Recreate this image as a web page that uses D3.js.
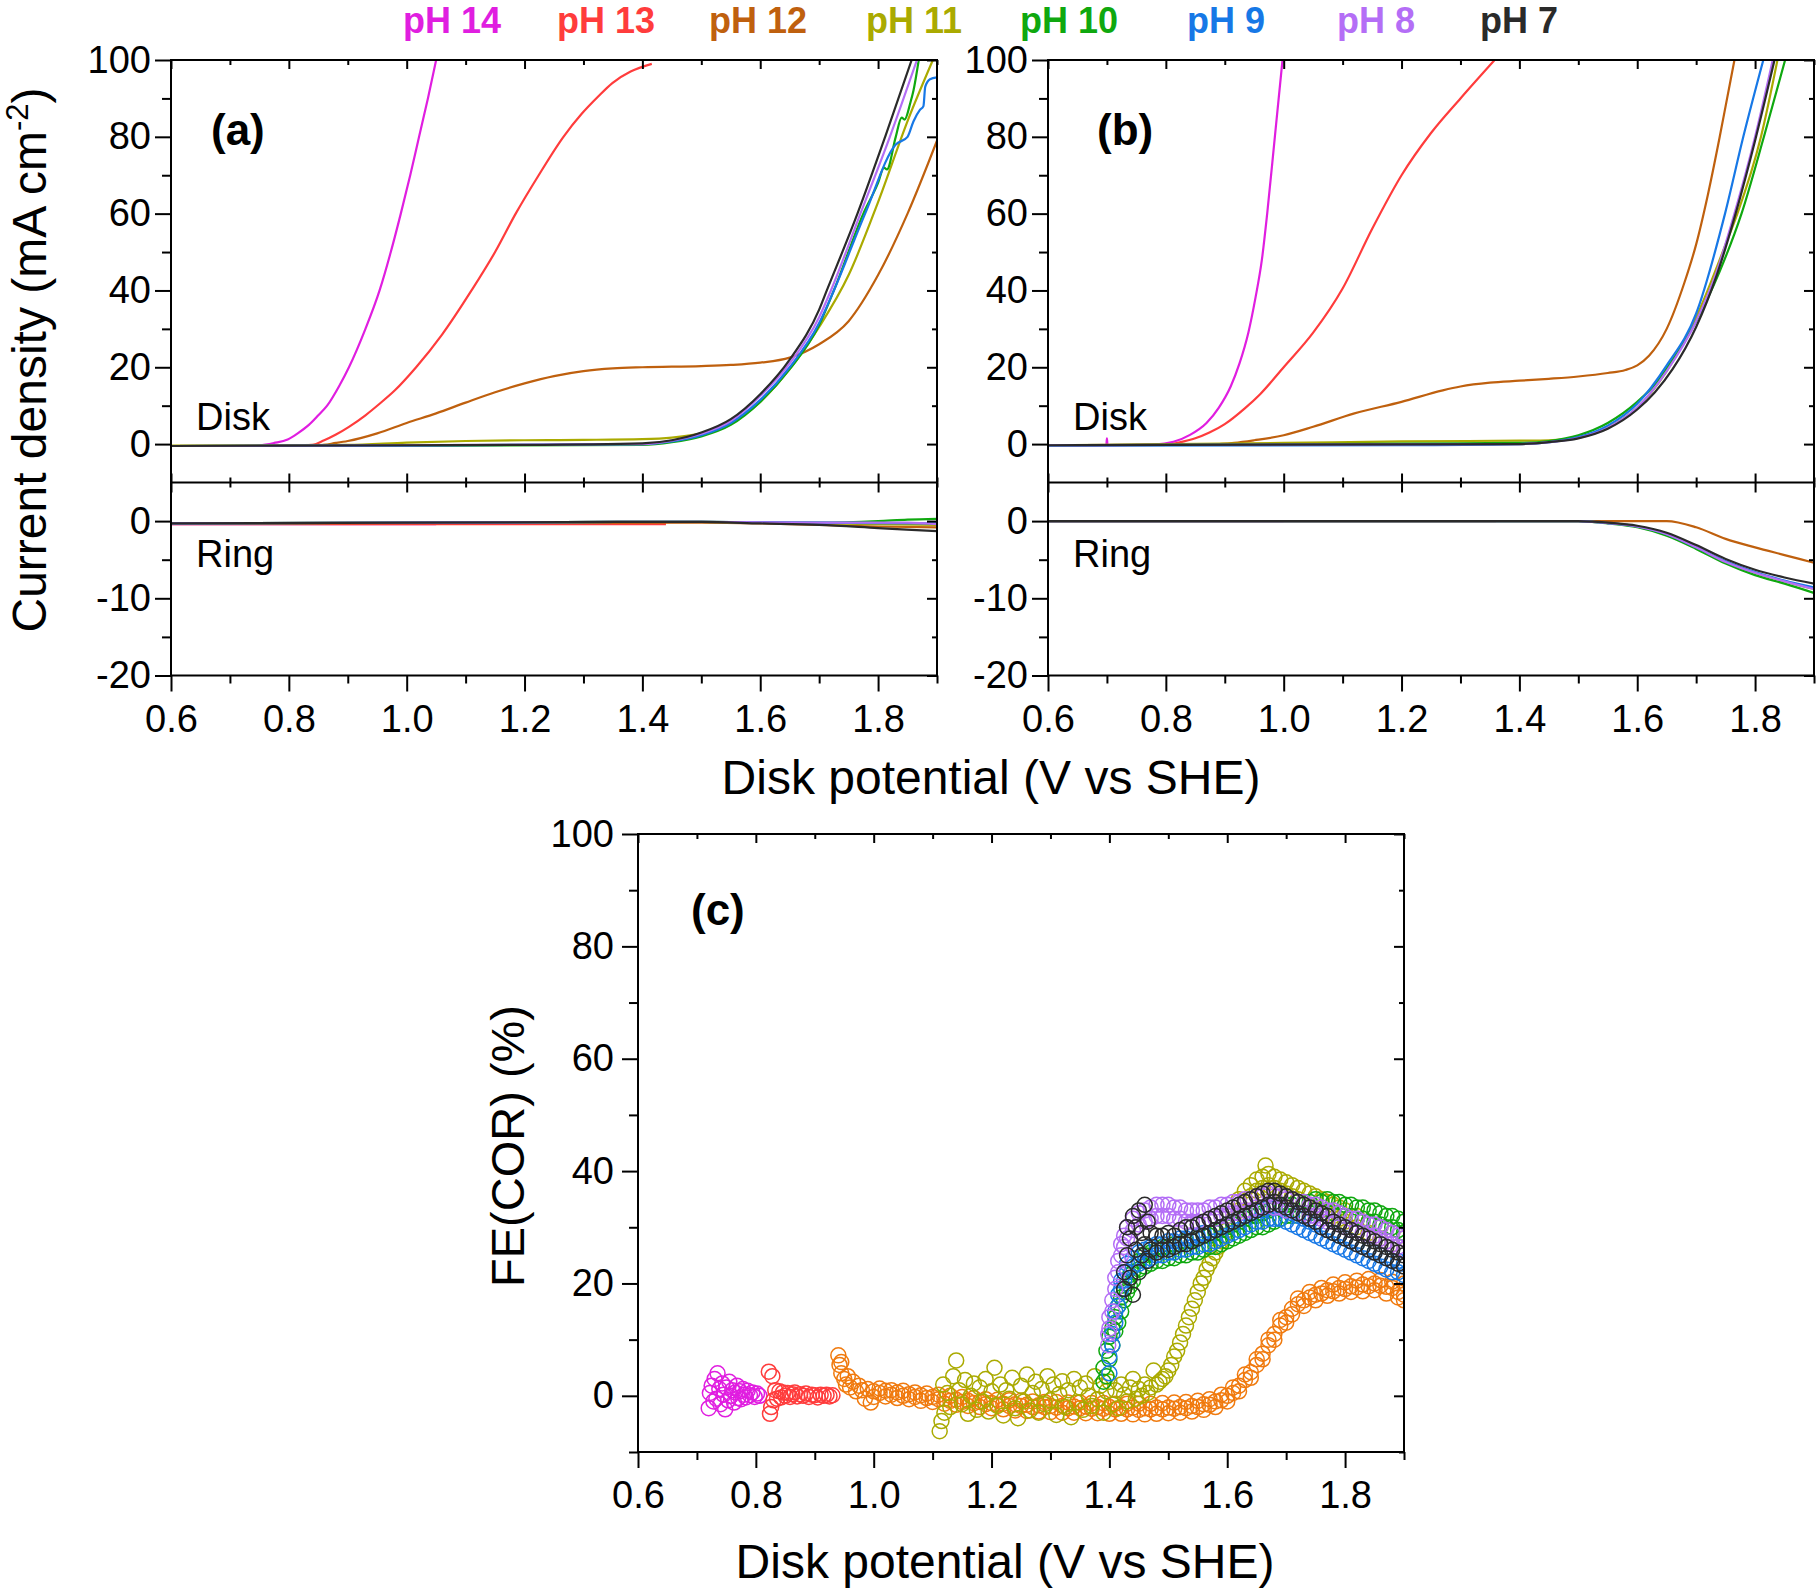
<!DOCTYPE html>
<html>
<head>
<meta charset="utf-8">
<script src="https://cdn.jsdelivr.net/npm/d3@7"></script>
<style>
body { margin: 0; background: #fff; }
text { font-family: "Liberation Sans", Arial, sans-serif; }
</style>
</head>
<body>
<script>
// series labels and colours
var phLabels = ["pH 14", "pH 13", "pH 12", "pH 11", "pH 10", "pH 9", "pH 8", "pH 7"];
var lineColors = ["#e01ee0", "#ff3c3c", "#bf600e", "#aaaa00", "#0fa80f", "#1778e6", "#b46ef6", "#2a2a2a"];
var pointColors = ["#e01ee0", "#ff3c3c", "#f07a0e", "#aaaa00", "#0fa80f", "#1778e6", "#b46ef6", "#2a2a2a"];

// tick values
var xMajor = [0.6, 0.8, 1.0, 1.2, 1.4, 1.6, 1.8];
var xMinor = [0.7, 0.9, 1.1, 1.3, 1.5, 1.7, 1.9];
var diskMajor = [0, 20, 40, 60, 80, 100];
var diskMinor = [10, 30, 50, 70, 90];
var ringMajor = [0, -10, -20];
var ringMinor = [-5, -15];
var feMajor = [0, 20, 40, 60, 80, 100];
var feMinor = [-10, 10, 30, 50, 70, 90];

// (a) disk current, [V, mA cm-2], order pH 14 .. pH 7
var diskA = [
  [[0.6,-0.5],[0.70,-0.5],[0.75,-0.3],[0.775,0.3],[0.798,1.2],[0.815,2.8],[0.834,5],[0.85,7.5],[0.865,10],[0.885,15],[0.902,20],[0.93,30],[0.954,40],[0.973,50],[0.99,60],[1.006,70],[1.021,80],[1.036,90],[1.05,100]],
  [[0.6,-0.5],[0.80,-0.5],[0.84,-0.2],[0.86,1],[0.88,2.5],[0.902,4.5],[0.93,7.5],[0.954,10.5],[0.98,14],[1.016,20],[1.06,28.5],[1.11,40],[1.15,50],[1.185,60],[1.224,70],[1.266,80],[1.297,86],[1.325,90.5],[1.349,94],[1.38,97],[1.416,99]],
  [[0.6,-0.5],[0.85,-0.3],[0.88,0.3],[0.9,0.8],[0.95,2.8],[1.0,5.5],[1.05,8],[1.1,10.8],[1.15,13.5],[1.2,15.8],[1.25,17.7],[1.3,19],[1.35,19.7],[1.4,20],[1.5,20.3],[1.55,20.6],[1.6,21.2],[1.65,22.5],[1.7,26],[1.75,32],[1.8,44],[1.85,60],[1.9,79]],
  [[0.6,-0.4],[0.9,-0.2],[1.0,0.4],[1.1,0.8],[1.2,1],[1.3,1.1],[1.4,1.3],[1.45,1.7],[1.5,2.8],[1.55,5.5],[1.6,11],[1.65,19.5],[1.7,30.5],[1.75,44],[1.8,63],[1.851,84.5],[1.893,100]],
  [[0.6,-0.5],[1.0,-0.4],[1.4,-0.2],[1.45,0.5],[1.5,2],[1.55,5],[1.6,11],[1.65,19.5],[1.7,31],[1.725,40],[1.775,60],[1.8,68],[1.81,72],[1.815,71.5],[1.83,80],[1.84,85],[1.845,84.5],[1.855,89],[1.86,92],[1.869,100]],
  [[0.6,-0.5],[1.0,-0.4],[1.4,0],[1.45,0.7],[1.5,2.3],[1.55,5.5],[1.6,11.5],[1.65,20],[1.7,31.5],[1.725,40],[1.778,60],[1.83,78],[1.85,80],[1.86,84],[1.871,87],[1.877,88],[1.88,93],[1.888,95],[1.9,95.5]],
  [[0.6,-0.5],[1.0,-0.3],[1.4,0],[1.45,0.9],[1.5,2.7],[1.55,6],[1.6,12.5],[1.65,21],[1.7,33],[1.72,40],[1.77,60],[1.82,80],[1.866,100]],
  [[0.6,-0.5],[1.0,-0.3],[1.2,-0.2],[1.4,0.2],[1.45,1],[1.5,3],[1.55,6.5],[1.6,13],[1.65,22],[1.7,35],[1.713,40],[1.765,60],[1.812,80],[1.857,100]]
];

// (a) ring current
var ringA = [
  [[0.6,-0.4],[1.05,-0.4]],
  [[0.6,-0.4],[1.44,-0.4]],
  [[0.6,-0.3],[1.5,-0.2],[1.6,-0.3],[1.7,-0.5],[1.8,-0.7],[1.9,-0.8]],
  [[0.6,-0.3],[1.5,-0.1],[1.7,-0.3],[1.9,-0.5]],
  [[0.6,-0.3],[1.5,-0.1],[1.7,-0.2],[1.8,0],[1.85,0.2],[1.9,0.3]],
  [[0.6,-0.3],[1.5,-0.1],[1.7,-0.2],[1.9,-0.3]],
  [[0.6,-0.3],[1.5,-0.1],[1.7,-0.2],[1.85,-0.2],[1.9,-0.4]],
  [[0.6,-0.3],[1.5,-0.1],[1.6,-0.3],[1.7,-0.5],[1.8,-0.9],[1.9,-1.3]]
];

// (b) disk current
var diskB = [
  [[0.6,-0.3],[0.699,-0.3],[0.7,1.5],[0.701,-0.3],[0.78,-0.1],[0.813,0.6],[0.841,2.4],[0.869,5.5],[0.89,9.5],[0.91,15],[0.925,21],[0.94,29],[0.952,38],[0.963,48],[0.972,60],[0.985,80],[0.998,100]],
  [[0.6,-0.3],[0.8,-0.2],[0.822,0.4],[0.85,1.5],[0.874,3],[0.9,5.2],[0.934,9.3],[0.96,13],[1.0,20],[1.05,29],[1.1,40.5],[1.15,56],[1.2,70],[1.25,81],[1.3,90],[1.358,100]],
  [[0.6,-0.3],[0.88,-0.1],[0.916,0.3],[0.95,1],[1.0,2.3],[1.05,4.5],[1.12,8],[1.2,11],[1.27,14],[1.3,15],[1.35,16],[1.4,16.5],[1.45,17],[1.5,17.6],[1.55,18.5],[1.58,19.3],[1.6,20.5],[1.62,23],[1.65,30],[1.68,42],[1.7,52],[1.72,65],[1.74,80],[1.75,88],[1.765,100]],
  [[0.6,-0.3],[1.0,0.3],[1.2,0.7],[1.4,0.9],[1.45,1],[1.5,1.8],[1.55,4.3],[1.6,9.5],[1.65,19],[1.7,33],[1.75,52],[1.77,60],[1.81,80],[1.838,100]],
  [[0.6,-0.3],[1.2,0.1],[1.4,0.3],[1.45,0.8],[1.5,2.3],[1.55,5.5],[1.6,11],[1.63,15.5],[1.66,22],[1.7,32],[1.74,45],[1.777,60],[1.815,80],[1.851,100]],
  [[0.6,-0.4],[1.2,-0.3],[1.4,0],[1.45,0.5],[1.5,1.8],[1.55,4.8],[1.6,10.5],[1.65,20.5],[1.7,34],[1.749,60],[1.78,80],[1.814,100]],
  [[0.6,-0.3],[1.4,0],[1.45,0.5],[1.5,1.6],[1.55,4.2],[1.6,9.5],[1.65,19],[1.7,32],[1.735,45],[1.765,60],[1.8,80],[1.83,100]],
  [[0.6,-0.3],[1.4,0],[1.45,0.5],[1.5,1.5],[1.55,4],[1.6,9],[1.63,13.5],[1.66,19.5],[1.7,30.5],[1.735,44],[1.767,60],[1.8,79],[1.833,100]]
];

// (b) ring current
var ringB = [
  [[0.6,0],[1.0,0]],
  [[0.6,0],[1.36,0]],
  [[0.6,0],[1.65,0],[1.7,-0.8],[1.75,-2.3],[1.8,-3.4],[1.85,-4.4],[1.9,-5.4]],
  [[0.6,0],[1.5,0],[1.55,-0.25],[1.6,-0.7],[1.65,-1.7],[1.7,-3.4],[1.75,-5.3],[1.8,-6.7],[1.85,-7.8],[1.9,-8.8]],
  [[0.6,0],[1.5,0],[1.55,-0.3],[1.6,-0.8],[1.65,-1.9],[1.7,-3.6],[1.75,-5.5],[1.8,-7.0],[1.85,-8.1],[1.9,-9.3]],
  [[0.6,0],[1.5,0],[1.55,-0.25],[1.6,-0.7],[1.65,-1.7],[1.7,-3.4],[1.75,-5.2],[1.8,-6.6],[1.85,-7.7],[1.9,-8.6]],
  [[0.6,0],[1.5,0],[1.55,-0.25],[1.6,-0.7],[1.65,-1.7],[1.7,-3.4],[1.75,-5.3],[1.8,-6.7],[1.85,-7.8],[1.9,-8.8]],
  [[0.6,0],[1.5,0],[1.55,-0.2],[1.6,-0.6],[1.65,-1.5],[1.7,-3.1],[1.75,-4.9],[1.8,-6.3],[1.85,-7.3],[1.9,-8.1]]
];

// (c) FE(COR) %, rows are [V, reading, reading...]
var feC = [
  [[0.720,-2.2],[0.722,0.5],[0.725,1.8],[0.728,-1.0],[0.730,3.0],[0.733,-0.5],[0.735,4.0],[0.738,1.2],[0.740,-1.5],[0.743,2.2],[0.745,0.2],[0.748,-2.4],[0.750,1.5],[0.753,-0.8],[0.755,2.5],[0.758,0.0],[0.760,1.0],[0.763,-1.2],[0.765,0.6],[0.768,1.8],[0.770,-0.4],[0.773,0.8],[0.775,-0.6],[0.778,1.2],[0.780,0.2],[0.783,-0.3],[0.786,0.9],[0.790,0.1],[0.794,0.6],[0.798,-0.2],[0.802,0.4],[0.806,0.0]],
  [[0.822,4.3],[0.824,-3.2],[0.826,-2.0],[0.828,3.5],[0.830,-0.8],[0.833,1.0],[0.836,-0.5],[0.840,0.8],[0.843,-0.3],[0.846,0.6],[0.850,0.0],[0.854,0.5],[0.858,-0.2],[0.862,0.3],[0.866,0.6],[0.870,-0.1],[0.875,0.3],[0.880,0.0],[0.885,0.4],[0.890,-0.2],[0.895,0.2],[0.900,0.1],[0.905,-0.3],[0.910,0.2],[0.915,0.0],[0.920,0.2],[0.925,-0.1],[0.930,0.1]],
  [[0.940,7.2],[0.942,5.5],[0.945,4.0,6.0],[0.950,3.0],[0.953,2.0],[0.956,3.5],[0.960,1.5],[0.965,2.5],[0.970,0.8],[0.975,1.8],[0.980,1.0],[0.985,-0.5],[0.990,1.2],[0.995,-1.2],[1.00,0.8,-0.2],[1.01,0.5,1.3],[1.02,0.9,-0.1],[1.03,0.2,1.0],[1.04,0.6,-0.4],[1.05,0.0,0.9],[1.06,0.3,-0.6],[1.07,-0.2,0.6],[1.08,0.1,-0.9],[1.09,-0.4,0.4],[1.10,-0.2,-1.1],[1.11,-0.6,0.2],[1.12,-0.5,-1.4],[1.13,-0.9,0.0],[1.14,-0.7,-1.6],[1.15,-1.1,-0.2],[1.16,-0.9,-1.8],[1.17,-1.3,-0.4],[1.18,-1.1,-2.0],[1.19,-1.5,-0.6],[1.20,-1.3,-2.2],[1.21,-1.6,-0.7],[1.22,-1.4,-2.4],[1.23,-1.8,-0.8],[1.24,-1.5,-2.6],[1.25,-1.8,-0.9],[1.26,-1.6,-2.7],[1.27,-2.0,-1.0],[1.28,-1.7,-2.8],[1.29,-2.0,-1.1],[1.30,-1.8,-2.9],[1.31,-2.1,-1.1],[1.32,-1.8,-3.0],[1.33,-2.2,-1.2],[1.34,-1.9,-3.0],[1.35,-2.2,-1.2],[1.36,-1.9,-3.1],[1.37,-2.3,-1.3],[1.38,-2.0,-3.1],[1.39,-2.3,-1.3],[1.40,-2.0,-3.2],[1.41,-2.4,-1.4],[1.42,-2.1,-3.2],[1.43,-2.4,-1.4],[1.44,-2.1,-3.3],[1.45,-2.5,-1.4],[1.46,-2.2,-3.3],[1.47,-2.4,-1.4],[1.48,-2.1,-3.2],[1.49,-2.4,-1.3],[1.50,-2.1,-3.1],[1.51,-2.3,-1.2],[1.52,-2.0,-3.0],[1.53,-2.2,-1.1],[1.54,-1.8,-2.8],[1.55,-2.0,-0.9],[1.56,-1.5,-2.5],[1.57,-1.6,-0.6],[1.58,-1.0,-2.0],[1.59,-0.8,0.2],[1.60,0.0,-1.0],[1.61,0.5,1.5],[1.62,1.8,0.8],[1.63,2.8,3.8],[1.64,4.2,3.2],[1.65,5.5,6.5],[1.66,7.5,6.5],[1.67,9.0,10.0],[1.68,11.0,10.0],[1.69,12.5,13.5],[1.70,14.0,13.0],[1.71,15.5,14.5],[1.72,16.3,17.3],[1.73,17.0,16.0],[1.74,17.5,18.5],[1.75,18.0,17.0],[1.76,18.2,19.2],[1.77,18.8,17.8],[1.78,18.6,19.8],[1.79,19.2,18.2],[1.80,19.0,20.2],[1.81,19.5,18.5],[1.82,19.3,20.5],[1.83,19.8,18.6],[1.84,19.5,20.8],[1.85,20.0,18.8],[1.86,19.6,20.6],[1.87,19.4,18.2],[1.88,19.2,20.3],[1.89,18.5,17.5],[1.90,18.0,20.0,17.0]],
  [[1.112,-6.3],[1.115,-4.5],[1.118,2.0],[1.12,-3.0],[1.125,0.5],[1.13,-2.0],[1.135,3.5],[1.14,6.3],[1.145,1.0],[1.15,-1.5],[1.155,2.8],[1.16,-3.2],[1.165,0.0],[1.17,2.2],[1.175,-2.5],[1.18,1.5],[1.185,-1.0],[1.19,3.0],[1.195,-2.8],[1.20,0.8],[1.205,5.0],[1.21,-1.8],[1.215,2.0],[1.22,-3.5],[1.225,1.0],[1.23,-0.5],[1.235,3.2],[1.24,-2.2],[1.245,-4.0],[1.25,1.8],[1.255,-1.0],[1.26,3.8],[1.265,-2.6],[1.27,0.5],[1.275,2.5],[1.28,-3.0],[1.285,1.2],[1.29,-1.5],[1.295,3.5],[1.30,-0.8],[1.305,2.0],[1.31,-3.4],[1.315,0.3],[1.32,2.6],[1.325,-2.0],[1.33,1.0],[1.335,-3.8],[1.34,3.0],[1.345,-1.2],[1.35,1.5],[1.355,-2.5],[1.36,2.2],[1.365,0.0],[1.37,-1.8],[1.375,3.5],[1.38,-0.6],[1.385,1.8],[1.39,-3.0],[1.395,0.8],[1.40,2.5],[1.405,-1.5],[1.41,1.0],[1.415,-2.2],[1.42,2.0],[1.425,0.2],[1.43,-1.0],[1.435,1.5],[1.44,3.0],[1.445,-0.5],[1.45,1.2],[1.455,0.0],[1.46,2.0],[1.465,0.5],[1.47,1.5],[1.475,4.5],[1.48,2.0],[1.485,2.5],[1.49,3.0],[1.495,3.5],[1.50,4.5],[1.505,5.5],[1.51,7.0],[1.515,8.0],[1.52,9.5],[1.525,11.0],[1.53,12.5],[1.535,14.0],[1.54,15.5],[1.545,17.0],[1.55,18.5],[1.555,20.0],[1.56,21.0],[1.565,22.5],[1.57,23.5],[1.575,24.5],[1.58,25.5],[1.585,26.5],[1.59,27.5],[1.595,28.5],[1.60,29.5],[1.61,31.5],[1.62,33,35],[1.63,34.5,36.5],[1.64,35.5,37.5],[1.65,36.5,38.5],[1.66,37,39],[1.665,41],[1.67,37.5,39.5],[1.68,37,39],[1.69,36.5,38.5],[1.70,36,38],[1.71,35.5,37.5],[1.72,35,37],[1.73,34.5,36.5],[1.74,34,36],[1.75,33.5,35.5],[1.76,33,35],[1.77,32.5,34.5],[1.78,32,34],[1.79,31.5,33.5],[1.80,31,33],[1.82,30,32],[1.84,29,31],[1.86,28,30],[1.88,27,29],[1.90,26,28]],
  [[1.390,2.5,5],[1.395,8,3.5],[1.40,10.5,6.5],[1.405,12,9],[1.41,14,11.5],[1.415,16,13],[1.42,17.5,15],[1.425,19,17],[1.43,20,18.5],[1.435,21.5,19.5],[1.44,22,20.5],[1.45,22.5,24],[1.46,23,25],[1.47,23.5,25.5],[1.48,24,26],[1.49,24,26.5],[1.50,24.5,26.5],[1.51,24.5,27],[1.52,25,27],[1.53,25,27.5],[1.54,25.5,27.5],[1.55,25.5,28],[1.56,26,28.5],[1.57,26.5,28.5],[1.58,26.5,29],[1.59,27,29.5],[1.60,27.5,30],[1.61,28,30.5],[1.62,28.5,31],[1.63,29,31.5],[1.64,29.5,32],[1.65,30,32],[1.66,30,32.5],[1.67,30.5,33],[1.68,31,33.5],[1.69,31.5,33.5],[1.70,32,34],[1.71,32,34],[1.72,32.5,34.5],[1.73,32.5,34.5],[1.74,32.5,34.5],[1.75,33,35],[1.76,32.5,34.5],[1.77,33,35],[1.78,32.5,34.5],[1.79,32.5,34.5],[1.80,32,34],[1.81,32,34],[1.82,31.5,33.5],[1.83,31.5,33.5],[1.84,31,33],[1.85,31,33],[1.86,30.5,32.5],[1.87,30,32],[1.88,30,32],[1.89,29.5,31.5],[1.90,29,31]],
  [[1.400,4,7],[1.405,9,11],[1.41,13,15],[1.415,16,18],[1.42,19,20.5],[1.425,20.5,22],[1.43,22,23.5],[1.44,23,24.5],[1.45,23.5,25.5],[1.46,24,26],[1.47,24.5,26.5],[1.48,25,27],[1.49,25,27],[1.50,25.5,27.5],[1.51,25.5,27.5],[1.52,26,28],[1.53,26,28],[1.54,26.5,28.5],[1.55,26.5,28.5],[1.56,27,29],[1.57,27,29],[1.58,27.5,29.5],[1.59,28,30],[1.60,28.5,30.5],[1.61,29,31],[1.62,29.5,31.5],[1.63,30,32],[1.64,30.5,32.5],[1.65,31,33],[1.66,31,33],[1.67,31.5,33.5],[1.68,31.5,33.5],[1.69,31.5,33.5],[1.70,31,33],[1.71,30.5,32.5],[1.72,30,32],[1.73,29.5,31.5],[1.74,29,31],[1.75,28.5,30.5],[1.76,28,30],[1.77,27.5,29.5],[1.78,27,29],[1.79,26.5,28.5],[1.80,26,28],[1.81,25.5,27.5],[1.82,25,27],[1.83,24.5,26.5],[1.84,24,26],[1.85,23.5,25.5],[1.86,23,25],[1.87,22.5,24.5],[1.88,22,24],[1.89,22,24],[1.90,21.5,23.5]],
  [[1.398,9,11],[1.40,12,14],[1.405,15,17],[1.41,19,21],[1.415,22,24],[1.42,25,27],[1.425,26.5,28.5],[1.43,28,30],[1.44,29.5,31.5],[1.45,30.5,32.5],[1.46,31,33],[1.47,31.5,33.5],[1.48,32,34],[1.49,32,34],[1.50,32,34],[1.51,31.5,33.5],[1.52,31.5,33.5],[1.53,31,33],[1.54,31,33],[1.55,31,33],[1.56,31,33],[1.57,31.5,33.5],[1.58,31.5,33.5],[1.59,32,34],[1.60,32,34],[1.61,32.5,34.5],[1.62,32.5,34.5],[1.63,33,35],[1.64,33,35],[1.65,33.5,35.5],[1.66,33.5,35.5],[1.67,34,36],[1.68,33.5,35.5],[1.69,33.5,35.5],[1.70,33,35],[1.71,33,35],[1.72,32.5,34.5],[1.73,32.5,34.5],[1.74,32,34],[1.75,32,34],[1.76,31.5,33.5],[1.77,31,33],[1.78,31,33],[1.79,30.5,32.5],[1.80,30,32],[1.81,29.5,31.5],[1.82,29.5,31.5],[1.83,29,31],[1.84,28.5,30.5],[1.85,28.5,30.5],[1.86,28,30],[1.87,27.5,29.5],[1.88,27,29],[1.89,26.5,28.5],[1.90,26,28]],
  [[1.425,19,22],[1.43,25,30],[1.435,21,28],[1.44,32,18],[1.445,26,30],[1.45,22,33],[1.455,25,29],[1.46,27,34],[1.465,24,31],[1.47,26,29],[1.48,25.5,28.5],[1.49,26,28.5],[1.50,26,29],[1.51,26.5,28.5],[1.52,27,29.5],[1.53,27,30],[1.54,27.5,30],[1.55,28,30.5],[1.56,28.5,31],[1.57,29,31.5],[1.58,29.5,32],[1.59,30,32.5],[1.60,30.5,33],[1.61,31,33.5],[1.62,31.5,34],[1.63,32,34.5],[1.64,32.5,35],[1.65,33,35.5],[1.66,33.5,36],[1.67,34,36.5],[1.68,34.5,36.5],[1.69,34,36],[1.70,33.5,35.5],[1.71,33,35],[1.72,32.5,34.5],[1.73,32,34],[1.74,31.5,33.5],[1.75,31,33],[1.76,30,32.5],[1.77,29.5,32],[1.78,29,31],[1.79,28.5,30.5],[1.80,28,30],[1.81,27.5,29.5],[1.82,27,29],[1.83,26.5,28.5],[1.84,26,28],[1.85,25.5,27.5],[1.86,25,27],[1.87,24.5,26.5],[1.88,24,26],[1.89,23.5,25.5],[1.90,23,25]]
];

var legendX = [403, 557, 709, 866, 1020, 1187, 1337, 1480];

var width = 1820, height = 1592;
var svg = d3.select("body").append("svg")
  .attr("width", width)
  .attr("height", height);

var xa = d3.scaleLinear().domain([0.6, 1.9]).range([171, 937]);
var xb = d3.scaleLinear().domain([0.6, 1.9]).range([1048, 1814]);
var xc = d3.scaleLinear().domain([0.6, 1.9]).range([638, 1404]);
var yDisk = d3.scaleLinear().domain([-10, 100]).range([482.5, 60]);
var yRing = d3.scaleLinear().domain([-20, 5]).range([675.5, 482.5]);
var yFe = d3.scaleLinear().domain([-10, 100]).range([1452, 834]);

// plain hyphen for negatives, like the original
var fmtX = d3.format(".1f");
var fmtY = function(d) { return String(d); };

function axis(gen, scale, vals, size, pad, fmt, tx, ty) {
  var a = gen(scale).tickValues(vals).tickSize(size).tickSizeOuter(0);
  if (fmt) a.tickFormat(fmt).tickPadding(pad);
  else a.tickFormat("");
  var g = svg.append("g")
    .attr("transform", "translate(" + tx + "," + ty + ")")
    .call(a);
  g.select(".domain").remove();
  g.selectAll("line").attr("stroke", "#000").attr("stroke-width", 2);
  g.selectAll("text")
    .attr("fill", "#000")
    .attr("font-size", 38)
    .attr("font-family", "'Liberation Sans', Arial, sans-serif");
  return g;
}

function clip(id, x0, y0, x1, y1) {
  svg.append("clipPath").attr("id", id)
    .append("rect")
    .attr("x", x0).attr("y", y0)
    .attr("width", x1 - x0).attr("height", y1 - y0);
}

function linePanel(x, data, yScale, clipId) {
  var line = d3.line()
    .x(function(d) { return x(d[0]); })
    .y(function(d) { return yScale(d[1]); })
    .curve(d3.curveMonotoneX);
  svg.append("g").attr("clip-path", "url(#" + clipId + ")")
    .selectAll("path")
    .data(data)
    .enter().append("path")
    .attr("d", line)
    .attr("fill", "none")
    .attr("stroke", function(d, i) { return lineColors[i]; })
    .attr("stroke-width", 2.2);
}

function lsvPanel(x, disk, ring, key) {
  var l = x.range()[0], r = x.range()[1];
  var top = yDisk.range()[1], mid = yDisk.range()[0], bot = yRing.range()[0];
  clip("disk" + key, l, top, r, mid);
  clip("ring" + key, l, mid, r, bot);
  linePanel(x, disk, yDisk, "disk" + key);
  linePanel(x, ring, yRing, "ring" + key);

  // frame
  svg.append("rect")
    .attr("x", l).attr("y", top)
    .attr("width", r - l).attr("height", bot - top)
    .attr("fill", "none").attr("stroke", "#000").attr("stroke-width", 2);
  svg.append("line")
    .attr("x1", l).attr("x2", r).attr("y1", mid).attr("y2", mid)
    .attr("stroke", "#000").attr("stroke-width", 2);

  // x ticks: bottom outward, top and separator inward
  axis(d3.axisBottom, x, xMajor, 16, 14, fmtX, 0, bot);
  axis(d3.axisBottom, x, xMinor, 8, 0, null, 0, bot);
  axis(d3.axisBottom, x, xMajor, 9, 0, null, 0, top);
  axis(d3.axisBottom, x, xMinor, 5, 0, null, 0, top);
  axis(d3.axisTop, x, xMajor, 9, 0, null, 0, mid);
  axis(d3.axisTop, x, xMinor, 5, 0, null, 0, mid);
  axis(d3.axisBottom, x, xMajor, 10, 0, null, 0, mid);
  axis(d3.axisBottom, x, xMinor, 5, 0, null, 0, mid);

  // y ticks
  axis(d3.axisLeft, yDisk, diskMajor, 16, 4, fmtY, l, 0);
  axis(d3.axisLeft, yDisk, diskMinor, 9, 0, null, l, 0);
  axis(d3.axisLeft, yRing, ringMajor, 16, 4, fmtY, l, 0);
  axis(d3.axisLeft, yRing, ringMinor, 9, 0, null, l, 0);
  axis(d3.axisLeft, yDisk, diskMajor, 10, 0, null, r, 0);
  axis(d3.axisLeft, yDisk, diskMinor, 5, 0, null, r, 0);
  axis(d3.axisLeft, yRing, ringMajor, 10, 0, null, r, 0);
  axis(d3.axisLeft, yRing, ringMinor, 5, 0, null, r, 0);

  svg.append("text").attr("x", l + 25).attr("y", 430)
    .attr("font-size", 38).text("Disk");
  svg.append("text").attr("x", l + 25).attr("y", 567)
    .attr("font-size", 38).text("Ring");
}

lsvPanel(xa, diskA, ringA, "a");
lsvPanel(xb, diskB, ringB, "b");

svg.append("text").attr("x", 211).attr("y", 145)
  .attr("font-size", 44).attr("font-weight", "bold").text("(a)");
svg.append("text").attr("x", 1097).attr("y", 145)
  .attr("font-size", 44).attr("font-weight", "bold").text("(b)");

// legend
svg.selectAll(".legend")
  .data(phLabels)
  .enter().append("text")
  .attr("class", "legend")
  .attr("x", function(d, i) { return legendX[i]; })
  .attr("y", 33)
  .attr("font-size", 36)
  .attr("font-weight", "bold")
  .attr("fill", function(d, i) { return lineColors[i]; })
  .text(function(d) { return d; });

// axis titles for (a) and (b)
var yt = svg.append("text")
  .attr("transform", "translate(46,360) rotate(-90)")
  .attr("text-anchor", "middle")
  .attr("font-size", 48);
yt.append("tspan").text("Current density (mA cm");
yt.append("tspan").attr("font-size", 31).attr("dy", -18).text("-2");
yt.append("tspan").attr("dy", 18).text(")");

svg.append("text").attr("x", 991).attr("y", 794)
  .attr("text-anchor", "middle").attr("font-size", 48)
  .text("Disk potential (V vs SHE)");

// panel (c)
var cl = xc.range()[0], cr = xc.range()[1], ct = yFe.range()[1], cb = yFe.range()[0];
clip("clipc", cl, ct, cr, cb);

var points = [];
feC.forEach(function(series, i) {
  series.forEach(function(row) {
    for (var k = 1; k < row.length; k++) points.push({v: row[0], fe: row[k], s: i});
  });
});

svg.append("g").attr("clip-path", "url(#clipc)")
  .selectAll("circle")
  .data(points)
  .enter().append("circle")
  .attr("cx", function(d) { return xc(d.v); })
  .attr("cy", function(d) { return yFe(d.fe); })
  .attr("r", 7.5)
  .attr("fill", "none")
  .attr("stroke", function(d) { return pointColors[d.s]; })
  .attr("stroke-width", 1.5);

svg.append("rect")
  .attr("x", cl).attr("y", ct)
  .attr("width", cr - cl).attr("height", cb - ct)
  .attr("fill", "none").attr("stroke", "#000").attr("stroke-width", 2);

axis(d3.axisBottom, xc, xMajor, 16, 13, fmtX, 0, cb);
axis(d3.axisBottom, xc, xMinor, 8, 0, null, 0, cb);
axis(d3.axisBottom, xc, xMajor, 9, 0, null, 0, ct);
axis(d3.axisBottom, xc, xMinor, 5, 0, null, 0, ct);
axis(d3.axisLeft, yFe, feMajor, 16, 8, fmtY, cl, 0);
axis(d3.axisLeft, yFe, feMinor, 9, 0, null, cl, 0);
axis(d3.axisLeft, yFe, feMajor, 10, 0, null, cr, 0);
axis(d3.axisLeft, yFe, feMinor, 5, 0, null, cr, 0);

svg.append("text").attr("x", 691).attr("y", 925)
  .attr("font-size", 44).attr("font-weight", "bold").text("(c)");

svg.append("text")
  .attr("transform", "translate(524,1146) rotate(-90)")
  .attr("text-anchor", "middle")
  .attr("font-size", 47)
  .text("FE(COR) (%)");

svg.append("text").attr("x", 1005).attr("y", 1578)
  .attr("text-anchor", "middle").attr("font-size", 48)
  .text("Disk potential (V vs SHE)");
</script>
</body>
</html>
